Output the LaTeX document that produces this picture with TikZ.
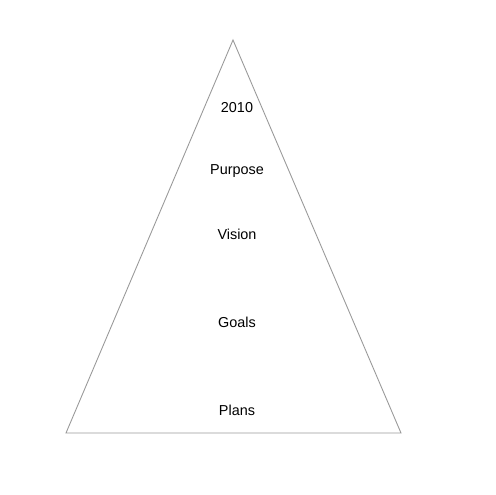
\documentclass[tikz,border=0pt]{standalone}
\usepackage{fontspec}
\setmainfont{Liberation Sans}
\usepackage{tikz}
\usetikzlibrary{positioning}

\begin{document}
\begin{tikzpicture}[x=0.02cm,y=-0.02cm]
\useasboundingbox[fill=white] (0,0) rectangle (495,495);
\coordinate (top) at (233,40);
\coordinate (bl) at (66,433);
\coordinate (br) at (401,433);
\draw[gray!80,line width=0.5pt] (top) -- (br) -- (bl) -- cycle;

\foreach \y/\x/\n in{108/2010/year,171/Purpose/purpose,234/Vision/vision,322/Goals/goals,410/Plans/plans}
  \node[font=\fontsize{8.2}{10}\selectfont] (\n) at (237,\y) {\x};
\end{tikzpicture}
\end{document}
